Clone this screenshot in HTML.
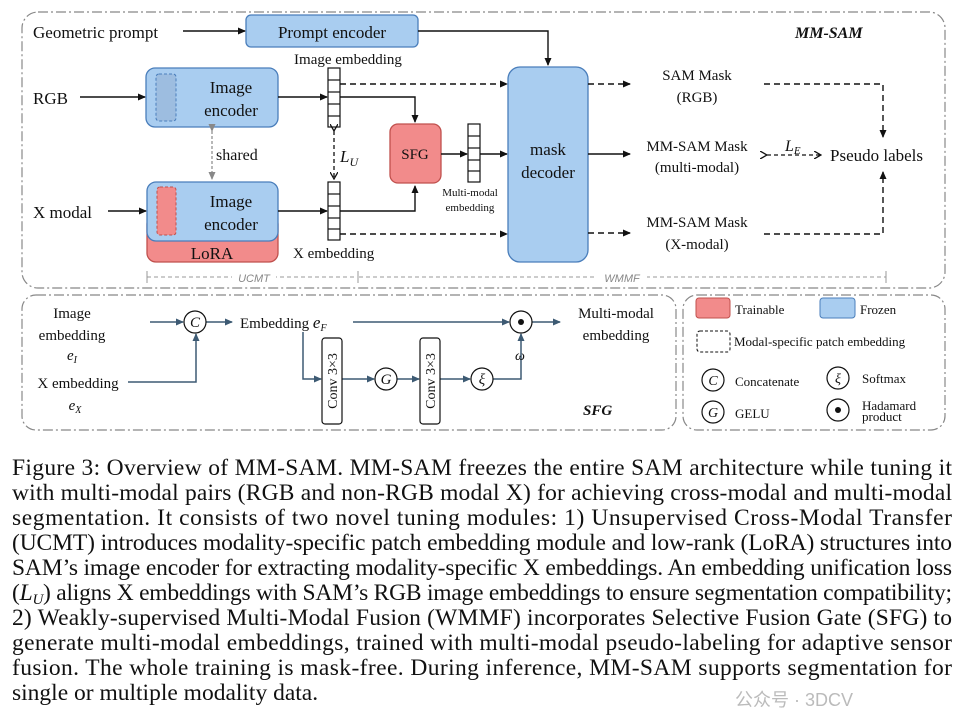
<!DOCTYPE html>
<html><head><meta charset="utf-8"><style>
html,body{margin:0;padding:0;background:#fff}
svg{display:block}
text{font-family:"Liberation Serif",serif;fill:#111}
</style></head><body>
<svg width="966" height="725" viewBox="0 0 966 725" xmlns="http://www.w3.org/2000/svg">
<defs>
<marker id="a" markerWidth="8" markerHeight="8" refX="7" refY="4" orient="auto" markerUnits="userSpaceOnUse"><path d="M0,0.5 L8,4 L0,7.5 z" fill="#111"/></marker>
<marker id="ab" markerWidth="8" markerHeight="8" refX="7" refY="4" orient="auto" markerUnits="userSpaceOnUse"><path d="M0,0.5 L8,4 L0,7.5 z" fill="#3d5a73"/></marker>
<marker id="ag" markerWidth="8" markerHeight="8" refX="7" refY="4" orient="auto" markerUnits="userSpaceOnUse"><path d="M0,0.5 L8,4 L0,7.5 z" fill="#888"/></marker>
<marker id="ao" markerWidth="8" markerHeight="8" refX="7" refY="4" orient="auto" markerUnits="userSpaceOnUse"><path d="M0,0 L7,4 L0,8" fill="none" stroke="#111" stroke-width="1.3"/></marker>
</defs>
<rect x="22" y="12" width="923" height="276" rx="16" fill="none" stroke="#888" stroke-width="1.2" stroke-dasharray="10,3,2,3"/>
<rect x="22" y="295" width="654" height="135" rx="14" fill="none" stroke="#888" stroke-width="1.2" stroke-dasharray="10,3,2,3"/>
<rect x="683" y="295" width="262" height="135" rx="14" fill="none" stroke="#888" stroke-width="1.2" stroke-dasharray="10,3,2,3"/>

<g font-size="17">
<text x="33" y="38">Geometric prompt</text>
<text x="33" y="104">RGB</text>
<text x="33" y="218">X modal</text>
</g>
<text x="795" y="38" font-size="16" font-weight="bold" font-style="italic">MM-SAM</text>

<rect x="246" y="15" width="172" height="32" rx="5" fill="#a9cdf0" stroke="#4a7ebb" stroke-width="1.3"/>
<text x="332" y="38" font-size="17" text-anchor="middle">Prompt encoder</text>
<line x1="183" y1="31" x2="245" y2="31" stroke="#111" stroke-width="1.4" marker-end="url(#a)"/>
<polyline points="418,31 548,31 548,65" fill="none" stroke="#111" stroke-width="1.4" marker-end="url(#a)"/>
<text x="348" y="64" font-size="15" text-anchor="middle">Image embedding</text>

<rect x="146" y="68" width="132" height="59" rx="9" fill="#a9cdf0" stroke="#4a7ebb" stroke-width="1.3"/>
<rect x="156" y="74" width="20" height="47" rx="3" fill="#9dbde0" stroke="#4a7ebb" stroke-dasharray="3,2"/>
<text x="231" y="93" font-size="17" text-anchor="middle">Image</text>
<text x="231" y="116" font-size="17" text-anchor="middle">encoder</text>
<line x1="80" y1="97" x2="145" y2="97" stroke="#111" stroke-width="1.4" marker-end="url(#a)"/>
<line x1="278" y1="97" x2="327" y2="97" stroke="#111" stroke-width="1.4" marker-end="url(#a)"/>

<rect x="147" y="215" width="131" height="47" rx="9" fill="#f28b8b" stroke="#c0504d" stroke-width="1.3"/>
<rect x="147" y="182" width="131" height="59" rx="9" fill="#a9cdf0" stroke="#4a7ebb" stroke-width="1.3"/>
<rect x="157" y="187" width="19" height="48" rx="3" fill="#f28b8b" stroke="#c0504d" stroke-dasharray="3,2"/>
<text x="231" y="207" font-size="17" text-anchor="middle">Image</text>
<text x="231" y="230" font-size="17" text-anchor="middle">encoder</text>
<text x="212" y="259" font-size="17" text-anchor="middle">LoRA</text>
<line x1="108" y1="211" x2="146" y2="211" stroke="#111" stroke-width="1.4" marker-end="url(#a)"/>
<line x1="278" y1="211" x2="327" y2="211" stroke="#111" stroke-width="1.4" marker-end="url(#a)"/>

<line x1="212" y1="131" x2="212" y2="179" stroke="#888" stroke-width="1.2" stroke-dasharray="3,2" marker-end="url(#ag)" marker-start="url(#ag)"/>
<text x="216" y="160" font-size="16">shared</text>

<g fill="#fff" stroke="#111" stroke-width="1.2">
<rect x="328" y="68" width="12" height="59"/>
<line x1="328" y1="80" x2="340" y2="80"/><line x1="328" y1="92" x2="340" y2="92"/><line x1="328" y1="104" x2="340" y2="104"/><line x1="328" y1="116" x2="340" y2="116"/>
<rect x="328" y="182" width="12" height="58"/>
<line x1="328" y1="194" x2="340" y2="194"/><line x1="328" y1="206" x2="340" y2="206"/><line x1="328" y1="218" x2="340" y2="218"/><line x1="328" y1="229" x2="340" y2="229"/>
<rect x="468" y="124" width="12" height="58"/>
<line x1="468" y1="136" x2="480" y2="136"/><line x1="468" y1="148" x2="480" y2="148"/><line x1="468" y1="160" x2="480" y2="160"/><line x1="468" y1="171" x2="480" y2="171"/>
</g>
<line x1="334" y1="131" x2="334" y2="179" stroke="#111" stroke-width="1.3" stroke-dasharray="4,3" marker-end="url(#ao)" marker-start="url(#ao)"/>
<text x="340" y="162" font-size="17" font-style="italic">L<tspan font-size="12" dy="4">U</tspan></text>
<text x="293" y="258" font-size="15">X embedding</text>

<rect x="390" y="124" width="51" height="59" rx="8" fill="#f28b8b" stroke="#c0504d" stroke-width="1.3"/>
<text x="415" y="159" font-size="15" text-anchor="middle">SFG</text>
<polyline points="340,97 415,97 415,122" fill="none" stroke="#111" stroke-width="1.4" marker-end="url(#a)"/>
<polyline points="340,211 415,211 415,186" fill="none" stroke="#111" stroke-width="1.4" marker-end="url(#a)"/>
<line x1="441" y1="154" x2="467" y2="154" stroke="#111" stroke-width="1.4" marker-end="url(#a)"/>
<line x1="480" y1="154" x2="507" y2="154" stroke="#111" stroke-width="1.4" marker-end="url(#a)"/>
<text x="470" y="196" font-size="11" text-anchor="middle">Multi-modal</text>
<text x="470" y="211" font-size="11" text-anchor="middle">embedding</text>
<line x1="340" y1="84" x2="507" y2="84" stroke="#111" stroke-width="1.4" stroke-dasharray="6,4" marker-end="url(#a)"/>
<line x1="340" y1="234" x2="507" y2="234" stroke="#111" stroke-width="1.4" stroke-dasharray="6,4" marker-end="url(#a)"/>

<rect x="508" y="67" width="80" height="195" rx="12" fill="#a9cdf0" stroke="#4a7ebb" stroke-width="1.3"/>
<text x="548" y="155" font-size="17" text-anchor="middle">mask</text>
<text x="548" y="178" font-size="17" text-anchor="middle">decoder</text>

<line x1="588" y1="84" x2="630" y2="84" stroke="#111" stroke-width="1.4" stroke-dasharray="6,4" marker-end="url(#a)"/>
<line x1="588" y1="154" x2="630" y2="154" stroke="#111" stroke-width="1.4" marker-end="url(#a)"/>
<line x1="588" y1="233" x2="630" y2="233" stroke="#111" stroke-width="1.4" stroke-dasharray="6,4" marker-end="url(#a)"/>
<g font-size="15" text-anchor="middle">
<text x="697" y="80">SAM Mask</text><text x="697" y="102">(RGB)</text>
<text x="697" y="151">MM-SAM Mask</text><text x="697" y="172">(multi-modal)</text>
<text x="697" y="227">MM-SAM  Mask</text><text x="697" y="249">(X-modal)</text>
</g>
<polyline points="764,84 883,84 883,137" fill="none" stroke="#111" stroke-width="1.4" stroke-dasharray="6,4" marker-end="url(#a)"/>
<polyline points="764,234 883,234 883,172" fill="none" stroke="#111" stroke-width="1.4" stroke-dasharray="6,4" marker-end="url(#a)"/>
<line x1="767" y1="155" x2="821" y2="155" stroke="#111" stroke-width="1.3" stroke-dasharray="4,3" marker-end="url(#ao)" marker-start="url(#ao)"/>
<text x="785" y="151" font-size="16" font-style="italic">L<tspan font-size="11" dy="3">E</tspan></text>
<text x="830" y="161" font-size="17">Pseudo labels</text>

<line x1="147" y1="277" x2="357" y2="277" stroke="#999" stroke-width="1" stroke-dasharray="4,3"/>
<line x1="147" y1="271" x2="147" y2="283" stroke="#999"/><line x1="358" y1="271" x2="358" y2="283" stroke="#999"/>
<line x1="359" y1="277" x2="886" y2="277" stroke="#999" stroke-width="1" stroke-dasharray="4,3"/>
<line x1="886" y1="271" x2="886" y2="283" stroke="#999"/>
<rect x="232" y="270" width="44" height="14" fill="#fff"/>
<text x="254" y="282" font-size="11" font-style="italic" text-anchor="middle" style="font-family:'Liberation Sans',sans-serif;fill:#888">UCMT</text>
<rect x="597" y="270" width="50" height="14" fill="#fff"/>
<text x="622" y="282" font-size="11" font-style="italic" text-anchor="middle" style="font-family:'Liberation Sans',sans-serif;fill:#888">WMMF</text>

<g font-size="15" text-anchor="middle">
<text x="72" y="318">Image</text><text x="72" y="340">embedding</text>
<text x="72" y="360" font-style="italic">e<tspan font-size="10" dy="3">I</tspan></text>
<text x="78" y="388">X embedding</text>
<text x="75" y="410" font-style="italic">e<tspan font-size="10" dy="3">X</tspan></text>
<text x="616" y="318">Multi-modal</text><text x="616" y="340">embedding</text>
</g>
<g stroke="#3d5a73" stroke-width="1.5" fill="none">
<line x1="150" y1="322" x2="183" y2="322" marker-end="url(#ab)"/>
<polyline points="128,382 196,382 196,334" marker-end="url(#ab)"/>
<line x1="206" y1="322" x2="232" y2="322" marker-end="url(#ab)"/>
<line x1="353" y1="322" x2="509" y2="322" marker-end="url(#ab)"/>
<line x1="532" y1="322" x2="560" y2="322" marker-end="url(#ab)"/>
<polyline points="303,332 303,379 321,379" marker-end="url(#ab)"/>
<line x1="342" y1="379" x2="374" y2="379" marker-end="url(#ab)"/>
<line x1="397" y1="379" x2="419" y2="379" marker-end="url(#ab)"/>
<line x1="440" y1="379" x2="470" y2="379" marker-end="url(#ab)"/>
<polyline points="493,379 521,379 521,334" marker-end="url(#ab)"/>
</g>
<g stroke="#111" stroke-width="1.2" fill="#fff">
<circle cx="195" cy="322" r="11"/><circle cx="521" cy="322" r="11"/>
<circle cx="386" cy="379" r="11"/><circle cx="482" cy="379" r="11"/>
<rect x="322" y="338" width="20" height="86" rx="3"/><rect x="420" y="338" width="20" height="86" rx="3"/>
</g>
<circle cx="521" cy="322" r="3" fill="#111"/>
<g font-size="15" font-style="italic" text-anchor="middle">
<text x="195" y="327">C</text><text x="386" y="384">G</text><text x="482" y="384">ξ</text>
</g>
<text x="240" y="328" font-size="15">Embedding <tspan font-style="italic" font-size="17">e</tspan><tspan font-style="italic" font-size="10" dy="3">F</tspan></text>
<text x="515" y="360" font-size="14" font-style="italic">ω</text>
<text transform="translate(337,381) rotate(-90)" font-size="14" text-anchor="middle">Conv 3×3</text>
<text transform="translate(435,381) rotate(-90)" font-size="14" text-anchor="middle">Conv 3×3</text>
<text x="583" y="415" font-size="15" font-weight="bold" font-style="italic">SFG</text>

<rect x="696" y="298" width="34" height="20" rx="3" fill="#f28b8b" stroke="#c0504d"/>
<text x="735" y="314" font-size="13">Trainable</text>
<rect x="820" y="298" width="35" height="20" rx="3" fill="#a9cdf0" stroke="#4a7ebb"/>
<text x="860" y="314" font-size="13">Frozen</text>
<rect x="697" y="331" width="33" height="21" rx="3" fill="none" stroke="#111" stroke-dasharray="3,2"/>
<text x="734" y="346" font-size="13">Modal-specific patch embedding</text>
<g stroke="#111" stroke-width="1.2" fill="#fff">
<circle cx="713" cy="380" r="11"/><circle cx="838" cy="378" r="11"/>
<circle cx="713" cy="412" r="11"/><circle cx="838" cy="410" r="11"/>
</g>
<circle cx="838" cy="410" r="3" fill="#111"/>
<g font-size="14" font-style="italic" text-anchor="middle">
<text x="713" y="385">C</text><text x="838" y="383">ξ</text><text x="713" y="417">G</text>
</g>
<g font-size="13">
<text x="735" y="386">Concatenate</text><text x="862" y="383">Softmax</text>
<text x="735" y="418">GELU</text><text x="862" y="410">Hadamard</text><text x="862" y="421">product</text>
</g>

<g font-size="23.5">
<text x="12" y="475" textLength="940" lengthAdjust="spacing">Figure 3: Overview of MM-SAM. MM-SAM freezes the entire SAM architecture while tuning it</text>
<text x="12" y="500" textLength="940" lengthAdjust="spacing">with multi-modal pairs (RGB and non-RGB modal X) for achieving cross-modal and multi-modal</text>
<text x="12" y="525" textLength="940" lengthAdjust="spacing">segmentation.  It consists of two novel tuning modules:  1) Unsupervised Cross-Modal Transfer</text>
<text x="12" y="550" textLength="940" lengthAdjust="spacing">(UCMT) introduces modality-specific patch embedding module and low-rank (LoRA) structures into</text>
<text x="12" y="575" textLength="940" lengthAdjust="spacing">SAM’s image encoder for extracting modality-specific X embeddings. An embedding unification loss</text>
<text x="12" y="600" textLength="940" lengthAdjust="spacing">(<tspan font-style="italic">L</tspan><tspan font-style="italic" font-size="15" dy="4">U</tspan><tspan dy="-4">) aligns X embeddings with SAM’s RGB image embeddings to ensure segmentation compatibility;</tspan></text>
<text x="12" y="625" textLength="940" lengthAdjust="spacing">2) Weakly-supervised Multi-Modal Fusion (WMMF) incorporates Selective Fusion Gate (SFG) to</text>
<text x="12" y="650" textLength="940" lengthAdjust="spacing">generate multi-modal embeddings, trained with multi-modal pseudo-labeling for adaptive sensor</text>
<text x="12" y="675" textLength="940" lengthAdjust="spacing">fusion. The whole training is mask-free. During inference, MM-SAM supports segmentation for</text>
<text x="12" y="700">single or multiple modality data.</text>
</g>
<text x="735" y="706" font-size="18" style="font-family:'Liberation Sans','Noto Sans CJK SC',sans-serif;fill:#bbb">公众号 · 3DCV</text>
</svg>
</body></html>
